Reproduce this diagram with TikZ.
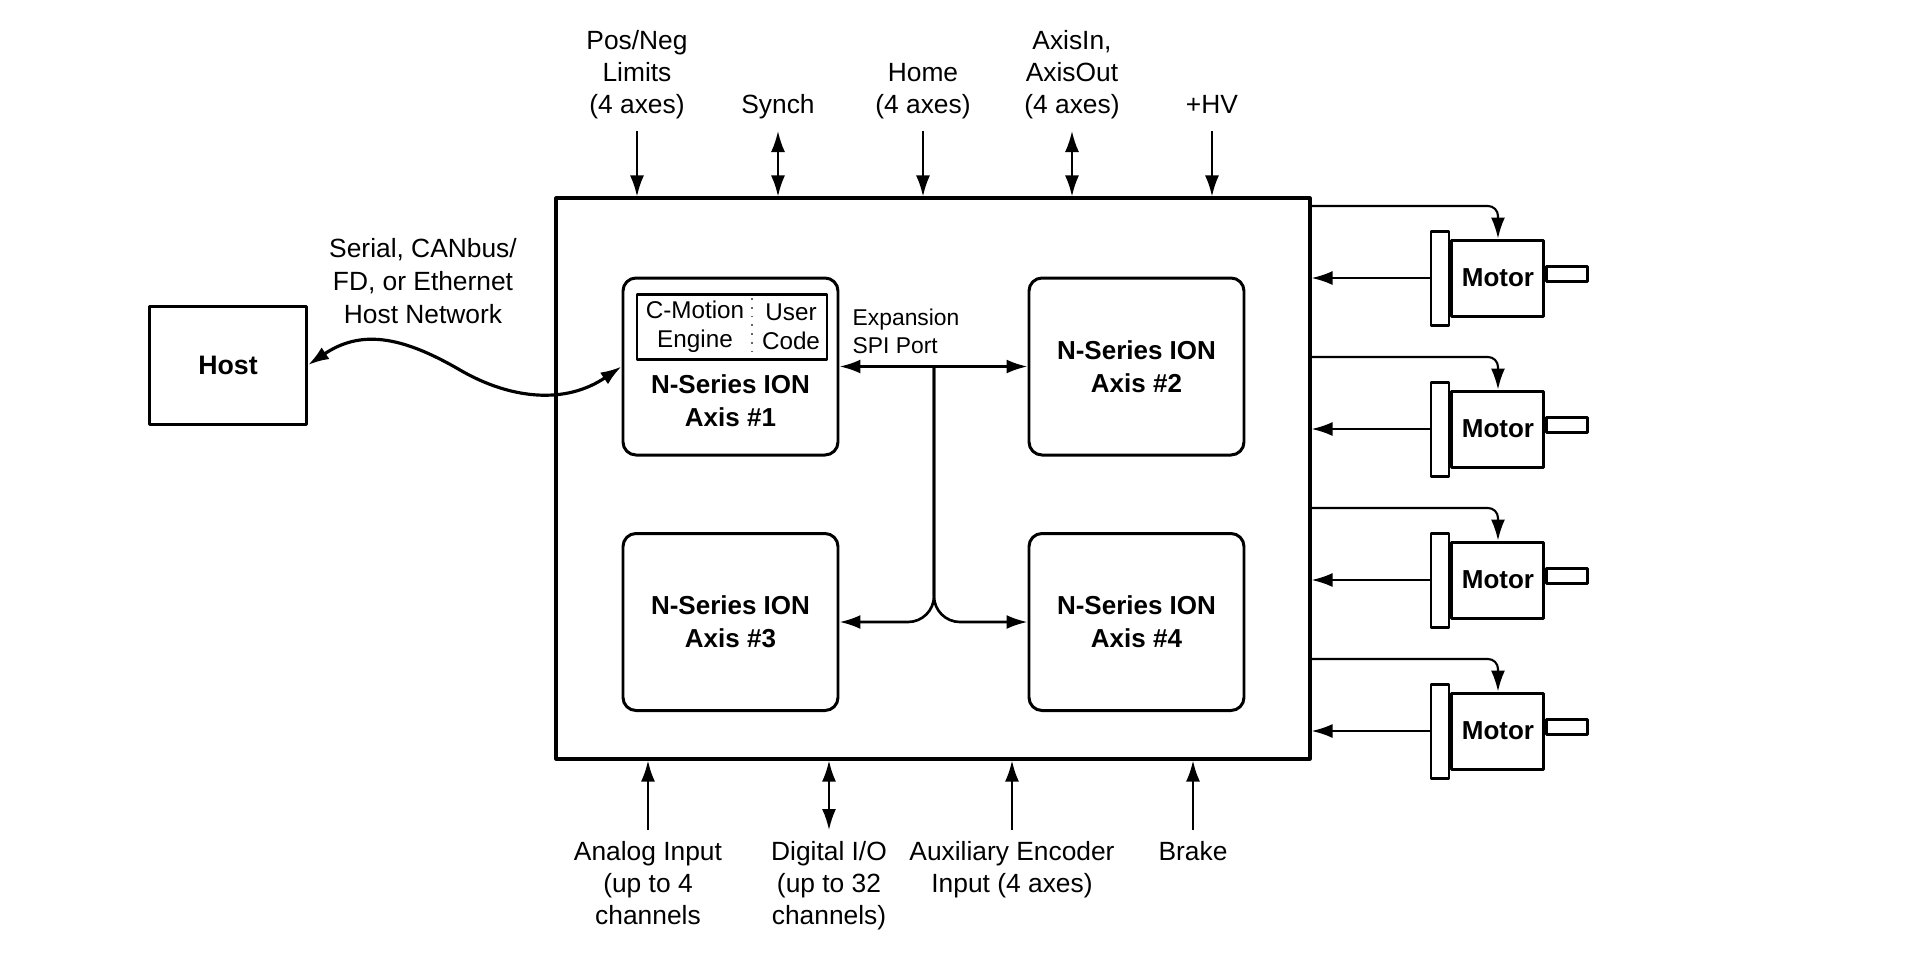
\documentclass[tikz,border=0pt]{standalone}
\usepackage{fontspec}
\setmainfont{Liberation Sans}
\usetikzlibrary{arrows.meta}

\begin{document}
\begin{tikzpicture}[x=0.1mm, y=-0.1mm, line join=round,
  box/.style={draw, line width=0.85pt, inner sep=0pt},
  axisbox/.style={box, rounded corners=1.3mm, minimum width=21.5mm,
    minimum height=17.7mm, align=center, font=\fontsize{7.4}{9.4}\selectfont\bfseries},
  sig/.style={line width=0.6pt},
  arr/.style={-{Latex[length=2.1mm,width=1.4mm]}},
  darr/.style={{Latex[length=2.1mm,width=1.4mm]}-{Latex[length=2.1mm,width=1.4mm]}},
  iolbl/.style={align=center, font=\fontsize{7.5}{9.1}\selectfont,
    inner sep=1pt, outer sep=2.3pt},
  flange/.style={box, minimum width=1.8mm, minimum height=9.4mm},
  mbody/.style={box, minimum width=9.2mm, minimum height=7.6mm,
    font=\fontsize{7.4}{9}\selectfont\bfseries},
  shaft/.style={box, minimum width=4.1mm, minimum height=1.5mm}]
\useasboundingbox (0,0) rectangle (1925,954);

% controller board and the four axis chips
\node[box, line width=0.9pt, minimum width=75.4mm, minimum height=56.1mm] (ctrl) at (933,478.5) {};
\node[axisbox] (ax1) at (730.5,366.5) {};
\node[axisbox] (ax2) at (1136.5,366.5) {N-Series ION\\Axis \#2};
\node[axisbox] (ax3) at (730.5,622) {N-Series ION\\Axis \#3};
\node[axisbox] (ax4) at (1136.5,622) {N-Series ION\\Axis \#4};
\node[align=center, font=\fontsize{7.4}{9.4}\selectfont\bfseries] (ax1lbl) at (730.5,401) {N-Series ION\\Axis \#1};
% engine / user code block inside axis 1
\node[box, minimum width=19mm, minimum height=6.5mm] (eng) at (732,326.5) {};
\node[align=center, font=\fontsize{6.9}{8.3}\selectfont] (cmot) at (695,326.5) {C-Motion\\Engine};
\node[align=center, font=\fontsize{6.9}{8.3}\selectfont] (ucode) at (791,326.5) {User\\Code};
\draw[dotted, black!60, line width=0.5pt] (752,298) -- (752,356);

% expansion SPI bus
\node[anchor=west, align=left, inner sep=0pt, font=\fontsize{6.5}{8}\selectfont] (spi) at (852,331) {Expansion\\SPI Port};
\draw[line width=0.75pt, darr] (ax1) -- (ax2);
\coordinate (spijn) at (934,366.5);
\draw[line width=0.75pt, arr, rounded corners=2.6mm] (spijn) |- (ax3);
\draw[line width=0.75pt, arr, rounded corners=2.6mm] (spijn) |- (ax4);

% host and its network link
\node[box, minimum width=15.7mm, minimum height=11.8mm, font=\fontsize{7.6}{9}\selectfont\bfseries] (host) at (228,365) {Host};
\node[align=center, font=\fontsize{7.5}{9.4}\selectfont] (net) at (423,281) {Serial, CANbus/\\FD, or Ethernet\\Host Network};
\draw[line width=0.9pt, darr] (host.east) .. controls (360,330) and (400,335) .. (460,370)
  .. controls (510,399) and (565,405) .. (ax1.west);

% signals along the top edge
\node[iolbl, anchor=south] (lim) at (637,131) {Pos/Neg\\Limits\\(4 axes)};
\node[iolbl, anchor=south] (syn) at (778,131) {Synch};
\node[iolbl, anchor=south] (hom) at (923,131) {Home\\(4 axes)};
\node[iolbl, anchor=south] (axio) at (1072,131) {AxisIn,\\AxisOut\\(4 axes)};
\node[iolbl, anchor=south] (hv) at (1212,131) {+HV\vphantom{(}};
\draw[sig, arr] (lim) -- (lim |- ctrl.north);
\draw[sig, darr] (syn) -- (syn |- ctrl.north);
\draw[sig, arr] (hom) -- (hom |- ctrl.north);
\draw[sig, darr] (axio) -- (axio |- ctrl.north);
\draw[sig, arr] (hv) -- (hv |- ctrl.north);

% signals along the bottom edge
\node[iolbl, anchor=north] (ain) at (648,830) {Analog Input\\(up to 4\\channels};
\node[iolbl, anchor=north] (dio) at (829,830) {Digital I/O\\(up to 32\\channels)};
\node[iolbl, anchor=north] (aux) at (1012,830) {Auxiliary Encoder\\Input (4 axes)};
\node[iolbl, anchor=north] (brk) at (1193,830) {Brake};
\draw[sig, arr] (ain) -- (ain |- ctrl.south);
\draw[sig, darr] (dio) -- (dio |- ctrl.south);
\draw[sig, arr] (aux) -- (aux |- ctrl.south);
\draw[sig, arr] (brk) -- (brk |- ctrl.south);

% motors: drive out on top, feedback back from the flange
\foreach \k in {0,...,3}{
  \node[flange] (fl\k) at (1440,278+151*\k) {};
  \node[mbody, anchor=west] (mot\k) at (fl\k.east) {Motor};
  \node[shaft, anchor=west, yshift=0.4mm] (sh\k) at (mot\k.east) {};
  \coordinate (drv\k) at (1310,206+151*\k);
  \draw[sig, arr, rounded corners=1mm] (drv\k) -| (mot\k.north);
  \draw[sig, arr] (fl\k) -- (ctrl.east |- fl\k);
}
\end{tikzpicture}
\end{document}
